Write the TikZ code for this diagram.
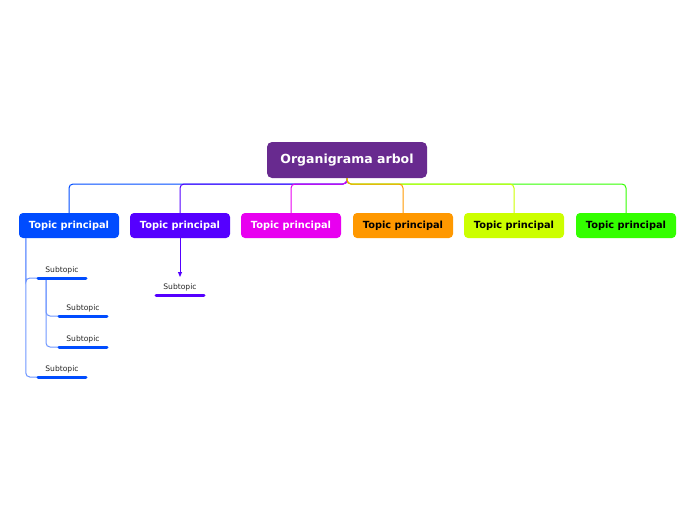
\documentclass[tikz,border=0pt]{standalone}
\usepackage{fontspec}
\setmainfont{DejaVu Sans}
\usetikzlibrary{arrows.meta}
\definecolor{rootc}{RGB}{104,42,143}
\definecolor{c1}{RGB}{0,76,255}
\definecolor{c2}{RGB}{85,0,255}
\definecolor{c3}{RGB}{232,0,240}
\definecolor{c4}{RGB}{255,152,0}
\definecolor{c5}{RGB}{204,255,0}
\definecolor{c6}{RGB}{51,255,0}
\definecolor{l1}{RGB}{110,150,255}
\begin{document}
\begin{tikzpicture}[x=1pt,y=-1pt,
  rootbox/.style={fill=rootc,rounded corners=5pt,minimum width=160pt,minimum height=36pt,inner sep=0pt,text=white,font=\bfseries\fontsize{12.5}{14}\selectfont},
  topicbox/.style={rounded corners=4pt,minimum width=100pt,minimum height=25pt,inner sep=0pt,font=\bfseries\fontsize{9.8}{11}\selectfont},
  subbar/.style={line width=3pt,line cap=round},
  subtxt/.style={font=\fontsize{7.6}{9}\selectfont,inner sep=0pt,text=black!85},
  conn/.style={line width=1pt,rounded corners=4pt}]
\useasboundingbox (0,0) rectangle (696,520);
\node[rootbox] (root) at (347,160) {Organigrama arbol};
\node[topicbox,fill=c1,text=white] (t1) at (69,225.5) {Topic principal};
\node[topicbox,fill=c2,text=white] (t2) at (180,225.5) {Topic principal};
\node[topicbox,fill=c3,text=white] (t3) at (291,225.5) {Topic principal};
\node[topicbox,fill=c4,text=black] (t4) at (403,225.5) {Topic principal};
\node[topicbox,fill=c5,text=black] (t5) at (514,225.5) {Topic principal};
\node[topicbox,fill=c6,text=black] (t6) at (626,225.5) {Topic principal};
% connectors root -> topics
\foreach \t/\c in {t1/c1,t2/c2,t3/c3,t6/c6,t5/c5,t4/c4}{
  \draw[conn,draw=\c] (root.south) -- (root.south |- 0,184) -- (\t.north |- 0,184) -- (\t.north);
}
% subtopics under t1
\coordinate (s1) at (38,278);
\coordinate (s1e) at (86,278);
\coordinate (s2) at (38,377);
\coordinate (s2e) at (86,377);
\coordinate (s11) at (59,316);
\coordinate (s11e) at (107,316);
\coordinate (s12) at (59,347);
\coordinate (s12e) at (107,347);
\draw[conn,draw=l1] (t1.south west) ++(7,0) -- ++(0,40) |- (s1);
\draw[conn,draw=l1] (t1.south west) ++(7,0) |- (s2);
\draw[conn,draw=l1] (46,278) |- (s11);
\draw[conn,draw=l1] (46,278) |- (s12);
\draw[subbar,c1] (s1) -- (s1e) node[subtxt,midway,above=2.5pt] (n1) {Subtopic};
\draw[subbar,c1] (s2) -- (s2e) node[subtxt,midway,above=2.5pt] (n2) {Subtopic};
\draw[subbar,c1] (s11) -- (s11e) node[subtxt,midway,above=2.5pt] (n11) {Subtopic};
\draw[subbar,c1] (s12) -- (s12e) node[subtxt,midway,above=2.5pt] (n12) {Subtopic};
% subtopic under t2
\coordinate (s3) at (156,295);
\coordinate (s3e) at (204,295);
\draw[subbar,c2] (s3) -- (s3e) node[subtxt,midway,above=2.5pt] (n3) {Subtopic};
\draw[line width=1pt,c2,-{Triangle[length=5pt,width=4pt]}] (t2.south) -- (180,277);
\end{tikzpicture}
\end{document}
